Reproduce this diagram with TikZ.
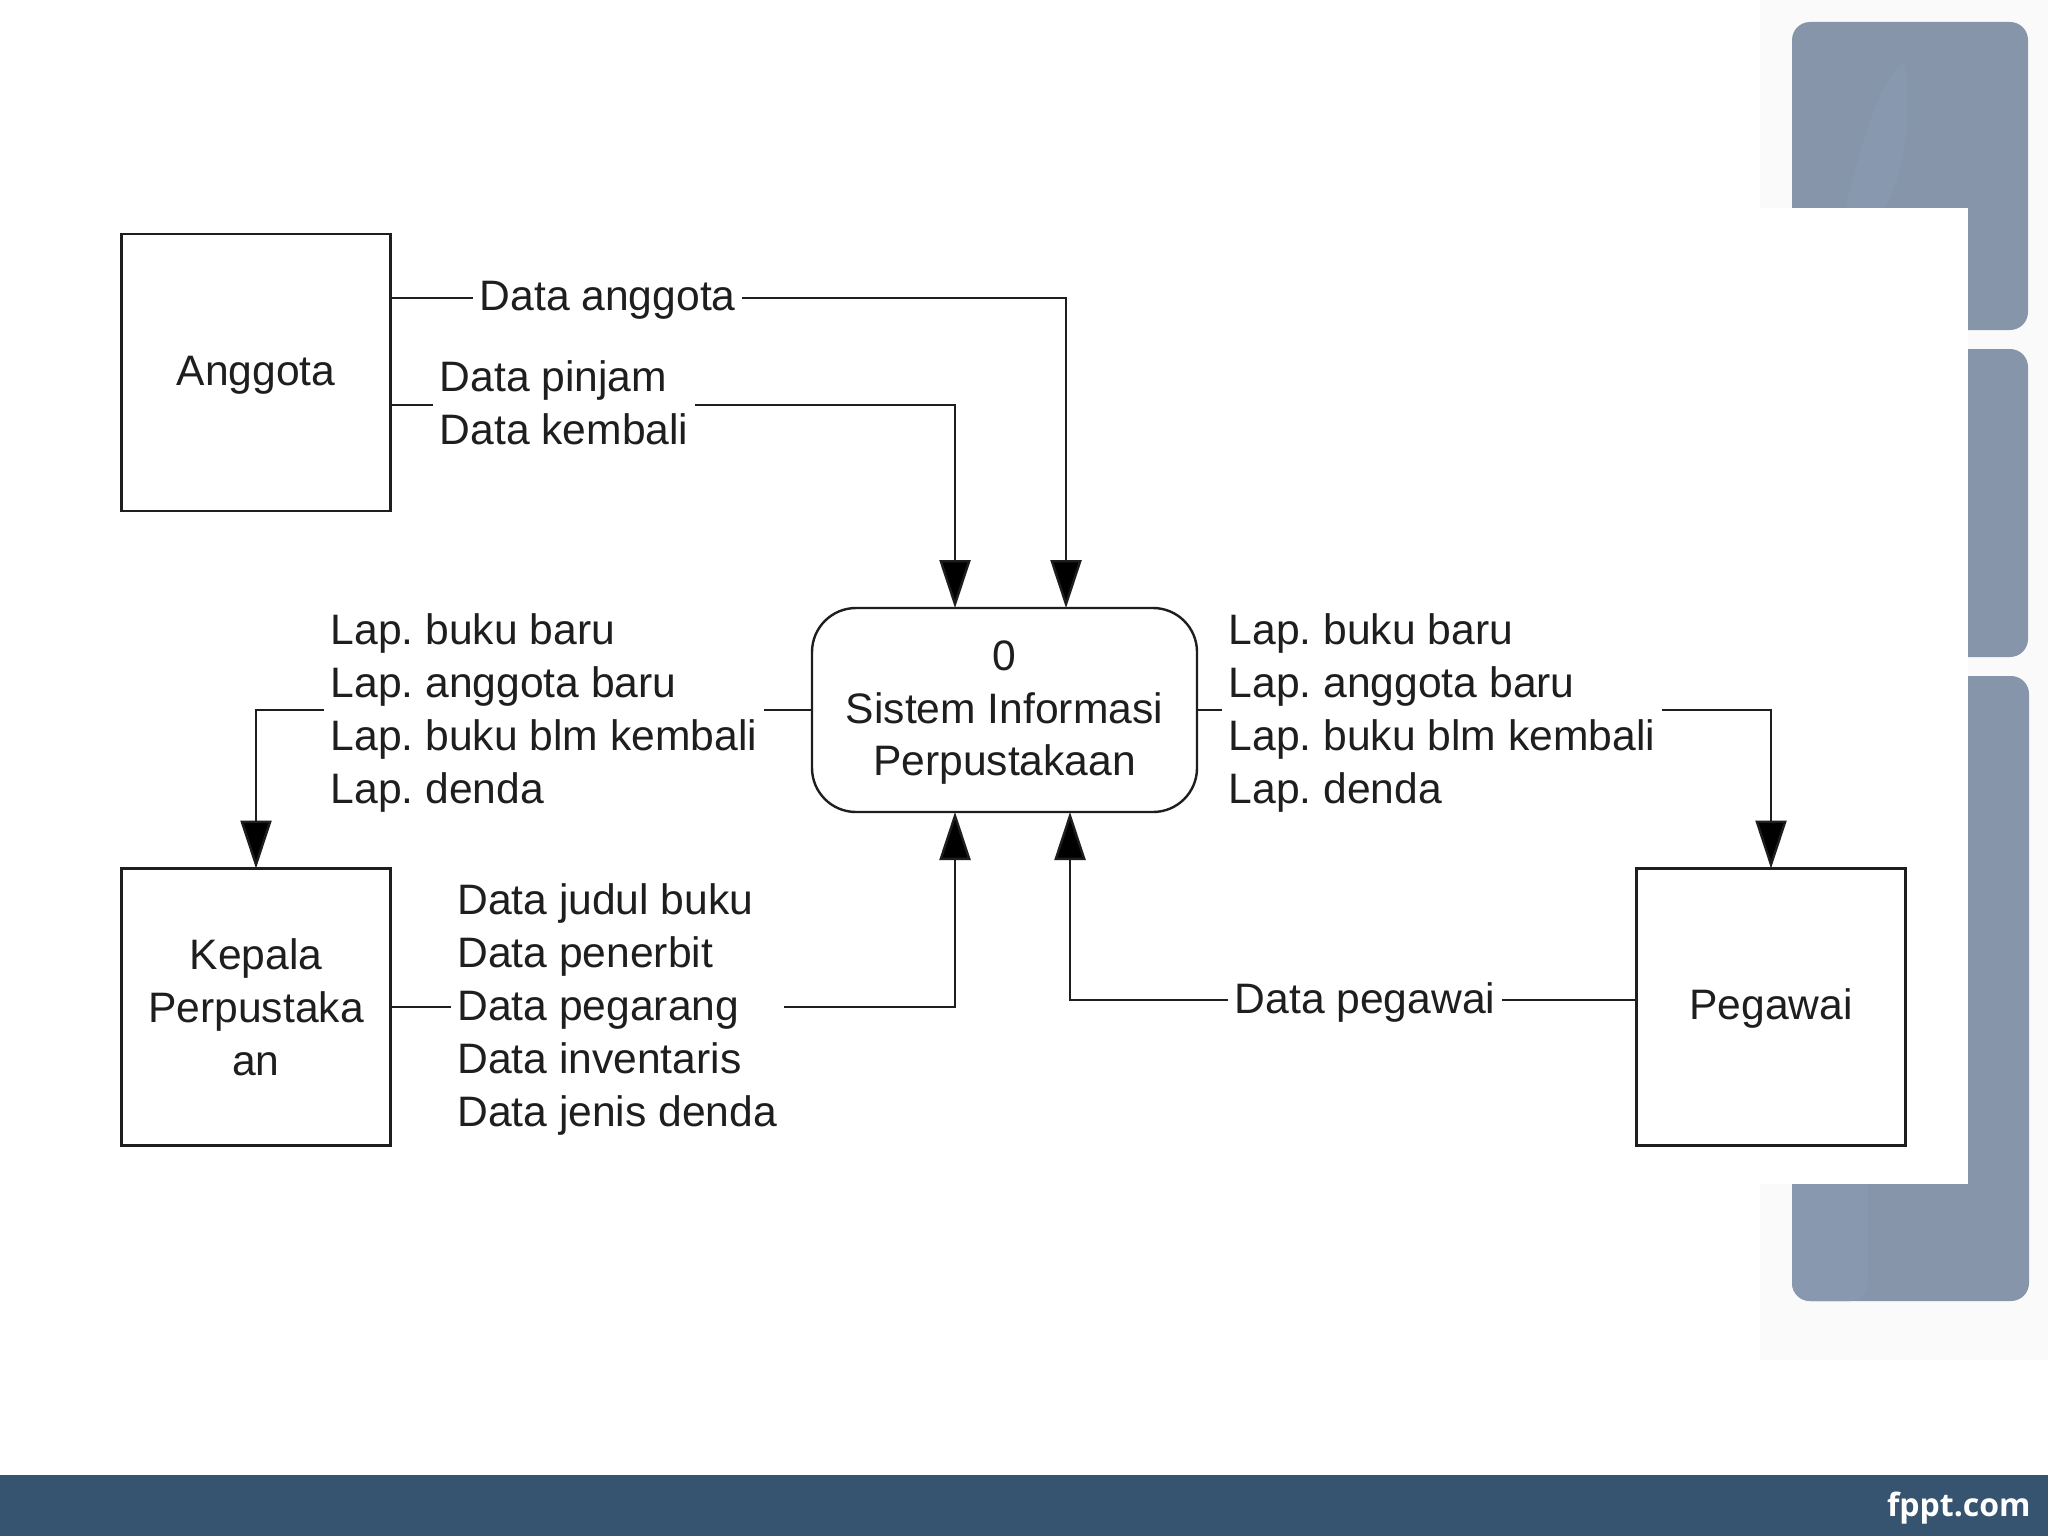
\documentclass[tikz,border=0pt]{standalone}
\usepackage{fontspec}
\setmainfont{Liberation Sans}
\newfontfamily\footfont{Open Sans}
\usetikzlibrary{arrows.meta,positioning,calc}
\definecolor{panelblue}{HTML}{8695A9}
\definecolor{panelsheen}{HTML}{8898AE}
\definecolor{barblue}{HTML}{36546F}
\definecolor{inkgray}{HTML}{1E1E1E}
\frenchspacing

\begin{document}
\begin{tikzpicture}[x=0.5pt,y=-0.5pt,>={Triangle[length=24pt,width=15.5pt,fill=black]}]
    \tikzstyle{box}=[rectangle,draw=inkgray,line width=1.2pt,align=center,outer sep=0pt,minimum width=134.5pt,minimum height=138.5pt,text depth=1.5pt,font=\fontsize{21.3}{26.3}\selectfont,text=inkgray]
    \tikzstyle{flowtext}=[align=left,anchor=west,inner sep=3.4pt,outer sep=0pt,text depth=1.8pt,font=\fontsize{21.3}{26.5}\selectfont,text=inkgray]
    \tikzstyle{flow}=[draw=inkgray,line width=1.2pt]
    \tikzstyle{panel}=[fill=panelblue,rounded corners=9pt]
    % slide background
    \useasboundingbox (0,0) rectangle (2048,1536);
    \fill[white] (0,0) rectangle (2048,1536);
    \fill[black!2] (1760,0) rectangle (2048,1360);
    \path[panel] (1792,22) rectangle (2028,330);
    \path[panel] (1792,349) rectangle (2028,657);
    \path[panel] (1792,676) rectangle (2029,1301);
    \fill[panelsheen] (1845,208) .. controls (1865,130) and (1880,80) .. (1905,62) .. controls (1912,120) and (1905,170) .. (1885,208) -- cycle;
    \fill[panelsheen,rounded corners=9pt] (1792,1184) |- (1868,1301) [sharp corners] -- (1868,1184) -- cycle;
    \fill[white] (1700,208) rectangle (1968,1184);
    \fill[barblue] (0,1475) rectangle (2048,1536);
    \node[anchor=base east,inner sep=0pt,text=white,font=\footfont\bfseries\fontsize{16}{20}\selectfont] (site) at (2031,1516) {fppt.com};

    % entities and the process
    \node[box] (anggota) at (256,372.5) {Anggota};
    \node[box,below=178.75pt of anggota,text depth=0pt] (kepala) {Kepala\\Perpustaka\\an};
    \node[box,right=623pt of kepala,text depth=3pt] (pegawai) {Pegawai};
    \node[box,rounded corners=22pt,minimum width=192.5pt,minimum height=102pt] (proses) at (1004.5,710) {0\\Sistem Informasi\\Perpustakaan};

    % flow labels
    \node[flowtext] (dataAnggota) at (473,298) {Data anggota};
    \node[flowtext,text depth=2.6pt] (dataPinjam) at (433,405) {Data pinjam\\Data kembali};
    \node[flowtext] (lapKepala) at (324,710) {Lap. buku baru\\Lap. anggota baru\\Lap. buku blm kembali\\Lap. denda};
    \node[flowtext] (lapPegawai) at (1222,710) {Lap. buku baru\\Lap. anggota baru\\Lap. buku blm kembali\\Lap. denda};
    \node[flowtext,right=30pt of kepala] (dataBuku) {Data judul buku\\Data penerbit\\Data pegarang\\Data inventaris\\Data jenis denda};
    \node[flowtext] (dataPegawai) at (1228,1000) {Data pegawai};

    % where the arrows meet the process
    \coordinate (atasKiri) at (955,608);
    \coordinate (atasKanan) at (1066,608);
    \coordinate (bawahKiri) at (955,812);
    \coordinate (bawahKanan) at (1070,812);

    \draw[flow] (anggota.east |- dataAnggota.west) -- (dataAnggota.west);
    \draw[flow,->] (dataAnggota.east) -| (atasKanan);
    \draw[flow] (anggota.east |- dataPinjam.west) -- (dataPinjam.west);
    \draw[flow,->] (dataPinjam.east) -| (atasKiri);
    \draw[flow] (proses.west) -- (lapKepala.east);
    \draw[flow,->] (lapKepala.west) -| (kepala.north);
    \draw[flow] (proses.east) -- (lapPegawai.west);
    \draw[flow,->] (lapPegawai.east) -| (pegawai.north);
    \draw[flow] (kepala.east) -- (dataBuku.west);
    \draw[flow,->] (dataBuku.east) -| (bawahKiri);
    \draw[flow] (pegawai.west |- dataPegawai.east) -- (dataPegawai.east);
    \draw[flow,->] (dataPegawai.west) -| (bawahKanan);
  \end{tikzpicture}
\end{document}
